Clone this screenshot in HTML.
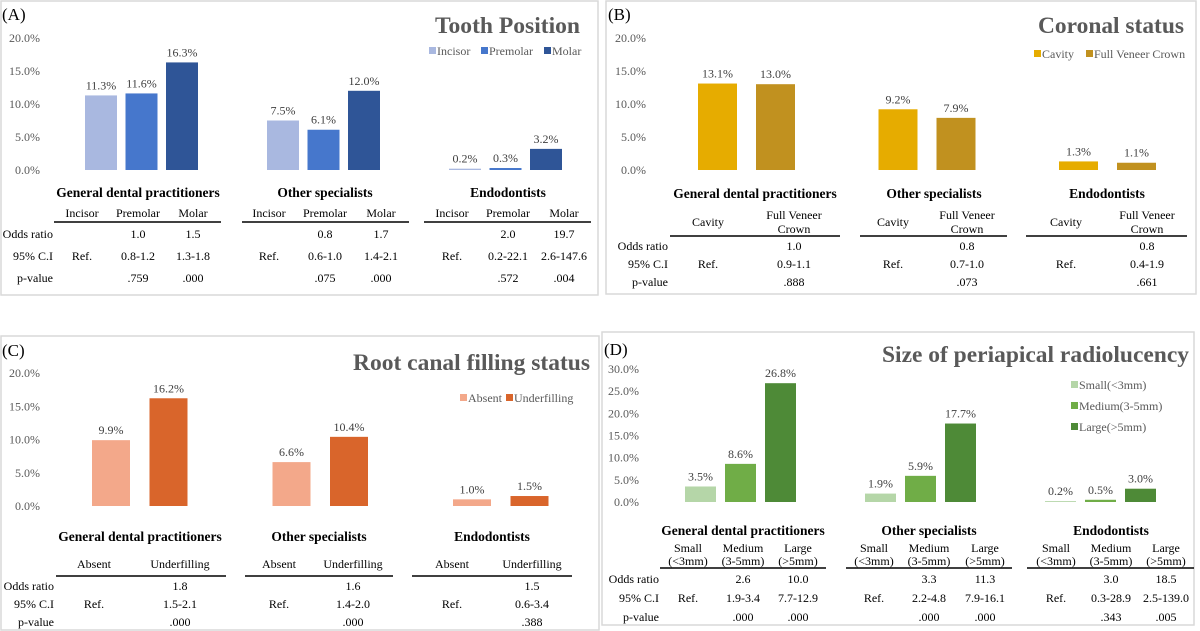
<!DOCTYPE html>
<html><head><meta charset="utf-8">
<style>
html,body{margin:0;padding:0;background:#fff;}
svg{display:block;font-family:"Liberation Serif",serif;}
</style></head>
<body>
<svg id="chart" width="1200" height="631" viewBox="0 0 1200 631" xmlns="http://www.w3.org/2000/svg">
<rect x="0" y="0" width="1200" height="631" fill="#fff"/>
</svg>
<script>
const groups=["General dental practitioners","Other specialists","Endodontists"];
const rowLabels=["Odds ratio","95% C.I","p-value"];
const yTicks20=[0,5,10,15,20];
const yTicks30=[0,5,10,15,20,25,30];

// Panel A data
const A_series=["Incisor","Premolar","Molar"];
const A_incisor=[11.3,7.5,0.2];
const A_premolar=[11.6,6.1,0.3];
const A_molar=[16.3,12.0,3.2];
const A_odds=[["","1.0","1.5"],["","0.8","1.7"],["","2.0","19.7"]];
const A_ci=[["Ref.","0.8-1.2","1.3-1.8"],["Ref.","0.6-1.0","1.4-2.1"],["Ref.","0.2-22.1","2.6-147.6"]];
const A_p=[["",".759",".000"],["",".075",".000"],["",".572",".004"]];

// Panel B data
const B_series=["Cavity","Full Veneer Crown"];
const B_cavity=[13.1,9.2,1.3];
const B_fvc=[13.0,7.9,1.1];
const B_odds=[["","1.0"],["","0.8"],["","0.8"]];
const B_ci=[["Ref.","0.9-1.1"],["Ref.","0.7-1.0"],["Ref.","0.4-1.9"]];
const B_p=[["",".888"],["",".073"],["",".661"]];

// Panel C data
const C_series=["Absent","Underfilling"];
const C_absent=[9.9,6.6,1.0];
const C_under=[16.2,10.4,1.5];
const C_odds=[["","1.8"],["","1.6"],["","1.5"]];
const C_ci=[["Ref.","1.5-2.1"],["Ref.","1.4-2.0"],["Ref.","0.6-3.4"]];
const C_p=[["",".000"],["",".000"],["",".388"]];

// Panel D data
const D_series=["Small(<3mm)","Medium(3-5mm)","Large(>5mm)"];
const D_small=[3.5,1.9,0.2];
const D_medium=[8.6,5.9,0.5];
const D_large=[26.8,17.7,3.0];
const D_odds=[["","2.6","10.0"],["","3.3","11.3"],["","3.0","18.5"]];
const D_ci=[["Ref.","1.9-3.4","7.7-12.9"],["Ref.","2.2-4.8","7.9-16.1"],["Ref.","0.3-28.9","2.5-139.0"]];
const D_p=[["",".000",".000"],["",".000",".000"],["",".343",".005"]];

const NS="http://www.w3.org/2000/svg";
const svg=document.getElementById('chart');
function mk(tag,attrs,parent,text){
  const e=document.createElementNS(NS,tag);
  for(const k in attrs)e.setAttribute(k,attrs[k]);
  if(text!==undefined)e.textContent=text;
  (parent||svg).appendChild(e);return e;
}

function drawPanel(p){
  const g=mk('g',{});
  
  
  const border=mk('rect',{x:p.box[0],y:p.box[1],width:p.box[2],height:p.box[3],fill:'none',stroke:'#d9d9d9','stroke-width':1.5},g);
  
  
  const lt=mk('text',{x:p.letter[0],y:p.letter[1],'font-size':17,fill:'#000'},g,p.letterText);
  
  
  const tt=mk('text',{x:p.title[0],y:p.title[1],'font-size':p.title[2],'font-weight':'bold',fill:'#595959','text-anchor':'end',textLength:p.title[3],lengthAdjust:'spacingAndGlyphs'},g,p.titleText);
  
  
  const yS=v=>p.y0-(v/p.yMax)*(p.y0-p.yTop);
  p.ticks.forEach(t=>{
    const e=mk('text',{x:p.tickRight,y:yS(t)+4,'font-size':12,fill:'#595959','text-anchor':'end'},g,t.toFixed(1)+'%');
    
    
  });
  p.values.forEach((vals,si)=>{
    vals.forEach((v,gi)=>{
      const x=p.barX0+gi*p.groupStep+si*p.barStep;
      const r=mk('rect',{x:x,y:yS(v),width:p.barW,height:p.y0-yS(v),fill:p.colors[si]},g);
      
      
      const l=mk('text',{x:x+p.barW/2,y:yS(v)-6,'font-size':12,fill:'#404040','text-anchor':'middle'},g,v.toFixed(1)+'%');
      
      
    });
  });
  // legend
  p.series.forEach((s,si)=>{
    const [lx,ly]=p.legend[si];
    const sq=mk('rect',{x:lx,y:ly-4,width:7,height:7,fill:p.colors[si]},g);
    
    
    const lt2=mk('text',{x:lx+8,y:ly+4,'font-size':12,fill:'#595959'},g,s);
    
    
  });
  // group titles & tables
  groups.forEach((gn,gi)=>{
    const gt=mk('text',{x:p.gtX[gi],y:p.gtY,'font-size':13.5,'font-weight':'bold',fill:'#000','text-anchor':'middle'},g,gn);
    
    
    p.headers.forEach((h,ci)=>{
      const ys=h.length===1?[p.hdrMid]:p.hdrLines;
      h.forEach((line,li)=>{
        const e=mk('text',{x:p.colX[gi][ci],y:ys[li],'font-size':12,fill:'#000','text-anchor':'middle'},g,line);
        
        
      });
    });
    const ln=mk('line',{x1:p.lines[gi][0],x2:p.lines[gi][1],y1:p.lineY,y2:p.lineY,stroke:'#000','stroke-width':1.5},g);
    
    
    p.rows.forEach((row,ri)=>{
      row[gi].forEach((cell,ci)=>{
        if(!cell)return;
        const e=mk('text',{x:p.colX[gi][ci],y:p.rowY[ri],'font-size':12,fill:'#000','text-anchor':'middle'},g,cell);
        
        
      });
    });
  });
  rowLabels.forEach((r,ri)=>{
    const e=mk('text',{x:p.labelRight,y:p.rowY[ri],'font-size':12,fill:'#000','text-anchor':'end'},g,r);
    
    
  });
}

drawPanel({id:'a',box:[1,1,597,294],letter:[2,20],letterText:'(A)',title:[580,33,23,145],titleText:'Tooth Position',
  ticks:yTicks20,yMax:20,y0:170,yTop:38,tickRight:40,
  values:[A_incisor,A_premolar,A_molar],series:A_series,colors:['#a9b8e0','#4677cc','#2f5597'],
  barX0:85,barW:32,barStep:40.5,groupStep:182,
  legend:[[429,51],[481,51],[544,51]],
  gtX:[138,325,508],gtY:197,headers:[["Incisor"],["Premolar"],["Molar"]],hdrMid:217,hdrLines:[217],
  colX:[[82,138,193],[269,325,381],[452,508,564]],lines:[[54,221],[242,409],[424,591]],lineY:222,
  rows:[A_odds,A_ci,A_p],rowY:[238,260,282],labelRight:53});

drawPanel({id:'b',box:[606,1,590,293],letter:[608,20],letterText:'(B)',title:[1184,33,23,146],titleText:'Coronal status',
  ticks:yTicks20,yMax:20,y0:170,yTop:38,tickRight:646,
  values:[B_cavity,B_fvc],series:B_series,colors:['#e6ac00','#c1911f'],
  barX0:698,barW:39,barStep:58,groupStep:180.5,
  legend:[[1034,54],[1086,54]],
  gtX:[755,934,1107],gtY:198,headers:[["Cavity"],["Full Veneer","Crown"]],hdrMid:226,hdrLines:[219,233],
  colX:[[708,794],[893,967],[1066,1147]],lines:[[670,840],[860,1007],[1026,1187]],lineY:236,
  rows:[B_odds,B_ci,B_p],rowY:[250,268,286],labelRight:668});

drawPanel({id:'c',box:[1,336,598,294],letter:[2,356],letterText:'(C)',title:[590,370,23,237],titleText:'Root canal filling status',
  ticks:yTicks20,yMax:20,y0:506,yTop:373,tickRight:40,
  values:[C_absent,C_under],series:C_series,colors:['#f3a88a','#d9652b'],
  barX0:92,barW:38,barStep:57.5,groupStep:180.5,
  legend:[[460,398],[506,398]],
  gtX:[140,319,492],gtY:541,headers:[["Absent"],["Underfilling"]],hdrMid:568,hdrLines:[568],
  colX:[[94,180],[279,353],[452,532]],lines:[[56,226],[245,393],[412,572]],lineY:576,
  rows:[C_odds,C_ci,C_p],rowY:[590,608,626],labelRight:54});

drawPanel({id:'d',box:[602,332,592,293],letter:[604,355],letterText:'(D)',title:[1189,362,23,307],titleText:'Size of periapical radiolucency',
  ticks:yTicks30,yMax:30,y0:502,yTop:369,tickRight:639,
  values:[D_small,D_medium,D_large],series:D_series,colors:['#b5d6a8','#70ad47','#4e8a37'],
  barX0:685,barW:31,barStep:40,groupStep:180,
  legend:[[1071,385],[1071,406],[1071,427]],
  gtX:[743,929,1111],gtY:535,headers:[["Small","(<3mm)"],["Medium","(3-5mm)"],["Large","(>5mm)"]],hdrMid:558,hdrLines:[552,565],
  colX:[[688,743,798],[874,929,985],[1056,1111,1166]],lines:[[660,826],[846,1012],[1027,1194]],lineY:568,
  rows:[D_odds,D_ci,D_p],rowY:[583,602,621],labelRight:659});
</script>
</body></html>
